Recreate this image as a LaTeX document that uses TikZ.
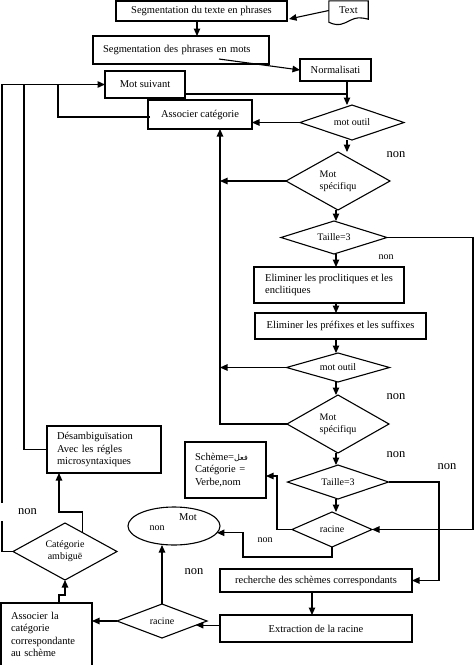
\documentclass[tikz,border=0pt]{standalone}
\usepackage{fontspec}
\setmainfont{Liberation Serif}
\newfontfamily\arabicfont[Script=Arabic]{DejaVu Sans}
\TeXXeTstate=1
\usetikzlibrary{shapes.geometric,arrows.meta,calc}
\begin{document}
\begin{tikzpicture}[x=1pt,y=-1pt,
  every node/.style={font=\fontsize{10.5}{12.5}\selectfont},
  box/.style={draw, rectangle, line width=1.1pt, inner sep=0pt, outer sep=0pt, align=center},
  lbox/.style={box, align=left},
  dia/.style={draw, diamond, shape aspect=2, inner sep=0pt, outer sep=0pt, line width=1.1pt, font=\fontsize{10}{12}\selectfont, align=center},
  conn/.style={line width=1.1pt},
  arr/.style={conn, -{Triangle[length=7.5pt,width=6.5pt]}},
  non/.style={font=\fontsize{12.5}{14}\selectfont, inner sep=0pt},
  nons/.style={font=\fontsize{10}{12}\selectfont, inner sep=0pt}
]
\useasboundingbox (0,0) rectangle (474,665);

% boxes
\node[box, minimum width=171pt, minimum height=20pt] (seg1) at (201.5,11) {Segmentation du texte en phrases};
\node[inner sep=0pt, minimum width=39pt, minimum height=19pt] (txt) at (348.5,10.5) {Text};
\draw[conn] (txt.north west) -- ($(txt.south west)+(0,2)$) .. controls +(10,5) and +(-6,3) .. ($(txt.south)+(2,0)$) .. controls +(6,-3) and +(-8,-2) .. ($(txt.south east)+(0,-1)$) -- (txt.north east) -- cycle;
\node[lbox, text width=156pt, inner xsep=10pt, minimum height=28pt] (seg2) at (181,50) {Segmentation des phrases en mots};
\node[box, minimum width=71pt, minimum height=22pt] (norm) at (335.5,70) {Normalisati};
\node[box, minimum width=80pt, minimum height=27pt] (motsuiv) at (145,84.5) {Mot suivant};
\node[box, minimum width=104pt, minimum height=29pt] (assoc) at (200,114.5) {Associer catégorie};
\node[lbox, minimum width=150pt, minimum height=36pt] (elim1) at (329,285) {Eliminer les proclitiques et les\\enclitiques};
\node[box, minimum width=171pt, minimum height=26pt] (elim2) at (340.5,326) {Eliminer les préfixes et les suffixes};
\node[lbox, text width=61pt, inner xsep=10pt, minimum height=56pt] (schema) at (225.5,470) {Schème={\arabicfont\fontsize{8}{8}\selectfont\beginR فعل\endR}\\Catégorie =\\Verbe,nom};
\node[lbox, text width=94pt, inner xsep=10pt, minimum height=47pt] (desamb) at (104,449.5) {Désambiguïsation\\Avec les régles\\microsyntaxiques};
\node[box, minimum width=192pt, minimum height=23pt] (recherche) at (316,580.5) {recherche des schèmes correspondants};
\node[box, minimum width=192pt, minimum height=27pt] (extract) at (316,628.5) {Extraction de la racine};
\node[lbox, text width=71pt, inner xsep=10pt, minimum height=63pt] (assocla) at (46.5,634.5) {Associer la\\catégorie\\correspondante\\au schème};

% diamonds
\node[dia, minimum width=104pt, minimum height=35pt] (d1) at (352,122.5) {mot outil};
\node[dia, align=left, minimum width=104pt, minimum height=58pt] (d2) at (338,181) {Mot\\spécifiqu};
\node[dia, minimum width=106pt, minimum height=33pt] (d3) at (334,237.5) {Taille=3};
\node[dia, minimum width=103pt, minimum height=29pt] (d4) at (338,367.5) {mot outil};
\node[dia, align=left, minimum width=102pt, minimum height=58pt] (d5) at (338,424) {Mot\\spécifiqu};
\node[dia, minimum width=101pt, minimum height=34pt] (d6) at (338,482) {Taille=3};
\node[dia, minimum width=80pt, minimum height=35pt] (d7) at (332,529.5) {racine};
\node[dia, minimum width=90pt, minimum height=34pt] (d8) at (162,621) {racine};
\node[dia, minimum width=104pt, minimum height=57pt] (d9) at (65,551.5) {Catégorie\\ambiguë};

% ellipse
\node[draw, ellipse, line width=1.1pt, minimum width=92pt, minimum height=38pt, inner sep=0pt, outer sep=0pt] (mot) at (174,526) {};
\node (motlbl) at (188,517) {Mot};

% connectors
\draw[arr] (txt.west) -- ($(seg1.east)+(2,8)$);
\coordinate (b1) at ($(seg1.south)+(-4.5,0)$);
\draw[arr] (b1) -- (b1 |- seg2.north);
\draw[arr] ($(seg2.center)+(38,9)$) -- (norm.west);
\coordinate (n1) at ($(norm.south)+(11.5,0)$);
\draw[arr] (n1) -- (n1 |- d1.north);
\coordinate (e1) at ($(motsuiv.east)+(0,9.5)$);
\draw[conn] (e1) -- (n1 |- e1);
\draw[arr] (d1.west) -- (d1.west -| assoc.east);
\coordinate (g1) at ($(assoc.west)+(2,2.5)$);
\draw[conn] (g1) -| ($(motsuiv.west)+(-47,0)$);
\draw[arr, line width=1.4pt] (d9.west) -| ($(motsuiv.west)+(-103,0)$) -- (motsuiv.west);
\draw[conn] (desamb.west) -| ($(motsuiv.west)+(-81,0)$);

\coordinate (vx) at ($(assoc.south)+(20,0)$);
\draw[arr] (d2.west) -- (d2.west -| vx);
\draw[arr] (d4.west) -- (d4.west -| vx);
\draw[arr] (d5.west) -| (vx);

\draw[arr] (n1 |- d1.south) -- (n1 |- d2.north);
\coordinate (ax) at (336,0);
\draw[arr] (ax |- d2.south) -- (ax |- d3.north);
\draw[arr] (ax |- d3.south) -- (ax |- elim1.north);
\draw[arr] (ax |- elim1.south) -- (ax |- elim2.north);
\draw[arr] (ax |- elim2.south) -- (ax |- d4.north);
\draw[arr] (ax |- d4.south) -- (ax |- d5.north);
\draw[arr] (ax |- d5.south) -- (ax |- d6.north);
\draw[arr] (ax |- d6.south) -- (ax |- d7.north);

\coordinate (r1) at (473,0);
\draw[arr] (d3.east) -- (d3.east -| r1) |- (d7.east);
\coordinate (r2) at (439,0);
\draw[arr] (d6.east) -- (d6.east -| r2) |- (recherche.east);
\coordinate (w1) at ($(schema.east)+(0,6)$);
\draw[arr] (d7.west) -| ($(w1)+(11,0)$) -- (w1);
\draw[arr] (d7.south) -- ++(0,10) -| ($(mot.-9)+(26,0)$) -- (mot.-9);

\coordinate (y1) at ($(recherche.south)+(-4,0)$);
\draw[arr] (y1) -- (y1 |- extract.north);
\draw[arr] (extract.west |- d8.-7) -- (d8.-7);
\draw[arr] (d8.west) -- (d8.west -| assocla.east);
\draw[arr] (d8.north) -- (d8.north |- mot.south);
\coordinate (c1) at ($(assocla.north)+(12.5,0)$);
\draw[arr] (c1) -- ++(0,-8) -| (d9.south);
\coordinate (dd1) at ($(desamb.south)+(-45,0)$);
\draw[arr] (d9.48) |- ($(dd1)+(0,39)$) -- (dd1);

% labels
\node[non] (l1) at (396,155) {non};
\node[nons] (l2) at (386,257) {non};
\node[non] (l3) at (396,397) {non};
\node[non] (l4) at (396,455) {non};
\node[non] (l5) at (447,467) {non};
\node[non, fill=white, text width=36pt, align=right, inner xsep=1pt, inner ysep=6pt, anchor=east] (l6) at (38,512) {non};
\node[nons] (l7) at (265,540) {non};
\node[non] (l8) at (194,572) {non};
\node[nons] (l9) at (157,528) {non};
\end{tikzpicture}
\end{document}
